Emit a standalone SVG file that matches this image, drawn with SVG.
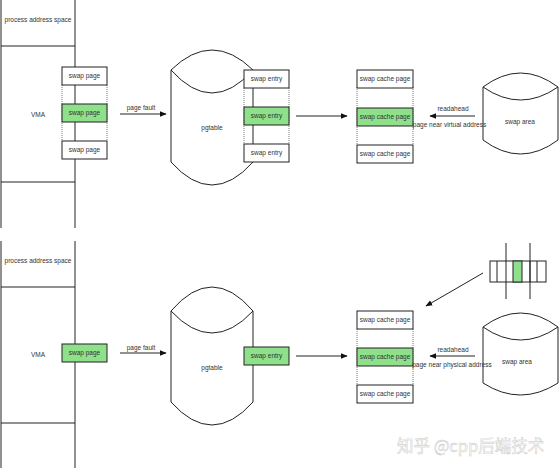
<svg xmlns="http://www.w3.org/2000/svg" width="560" height="471" viewBox="0 0 560 471">
<defs>
<marker id="ah" viewBox="0 0 10 10" refX="9" refY="5" markerWidth="7" markerHeight="7" markerUnits="userSpaceOnUse" orient="auto">
<path d="M0,1 L10,5 L0,9 Z" fill="#111"/>
</marker>
<style>
text{font-family:"Liberation Sans",Arial,sans-serif;font-size:6.5px;fill:#333;text-anchor:middle}
.ln{stroke:#222;stroke-width:1;fill:none}
.bx{fill:#fff;stroke:#222;stroke-width:1}
.gr{fill:#8ee08a;stroke:#222;stroke-width:1}
.dt{stroke:#555;stroke-width:0.8;stroke-dasharray:1,1;fill:none}
.sh{fill:#fff;stroke:#222;stroke-width:1}
.ar{stroke:#222;stroke-width:1;fill:none;marker-end:url(#ah)}
.wm{font-family:"Noto Sans CJK SC","Liberation Sans",sans-serif;font-size:16.5px;fill:#fbfbfb;stroke:#c4c4c4;stroke-width:0.4;text-anchor:start}
</style>
</defs>

<!-- TOP SECTION -->
<g id="pas-top">
<line class="ln" x1="1" y1="0" x2="1" y2="228"/>
<line class="ln" x1="75" y1="0" x2="75" y2="228"/>
<line class="ln" x1="1" y1="46" x2="75" y2="46"/>
<line class="ln" x1="1" y1="182" x2="75" y2="182"/>
<text x="38" y="22">process address space</text>
<text x="38" y="117">VMA</text>
</g>
<g id="swap-pages-top">
<line class="dt" x1="62" y1="85" x2="62" y2="141"/>
<line class="dt" x1="107" y1="85" x2="107" y2="141"/>
<rect class="bx" x="62" y="67" width="45" height="18"/>
<text x="84.5" y="78">swap page</text>
<rect class="gr" x="62" y="104" width="45" height="18"/>
<text x="84.5" y="115">swap page</text>
<rect class="bx" x="62" y="141" width="45" height="18"/>
<text x="84.5" y="152">swap page</text>
</g>
<g id="pgtable-top">
<path class="sh" d="M171,70 Q212,30 253,70 L253,162 Q212,208 171,162 Z"/>
<path class="ln" d="M171,70 Q212,116 253,70"/>
<text x="212" y="130">pgtable</text>
</g>
<g id="swap-entries-top">
<line class="dt" x1="244" y1="88" x2="244" y2="144"/>
<line class="dt" x1="289" y1="88" x2="289" y2="144"/>
<rect class="bx" x="244" y="70" width="45" height="18"/>
<text x="266.5" y="81">swap entry</text>
<rect class="gr" x="244" y="107" width="45" height="18"/>
<text x="266.5" y="118">swap entry</text>
<rect class="bx" x="244" y="144" width="45" height="18"/>
<text x="266.5" y="155">swap entry</text>
</g>
<g id="swap-cache-top">
<line class="dt" x1="357" y1="87" x2="357" y2="145"/>
<line class="dt" x1="413" y1="87" x2="413" y2="145"/>
<rect class="bx" x="357" y="70" width="56" height="18"/>
<text x="385" y="81">swap cache page</text>
<rect class="gr" x="357" y="108" width="56" height="18"/>
<text x="385" y="119">swap cache page</text>
<rect class="bx" x="357" y="145" width="56" height="18"/>
<text x="385" y="156">swap cache page</text>
</g>
<g id="swap-area-top">
<path class="sh" d="M483,87 Q520.5,59 558,87 L558,140 Q520.5,168 483,140 Z"/>
<path class="ln" d="M483,87 Q520.5,113 558,87"/>
<text x="520" y="124">swap area</text>
</g>

<!-- BOTTOM SECTION -->
<g id="pas-bottom">
<line class="ln" x1="1" y1="241" x2="1" y2="468"/>
<line class="ln" x1="75" y1="241" x2="75" y2="468"/>
<line class="ln" x1="1" y1="287" x2="75" y2="287"/>
<line class="ln" x1="1" y1="423" x2="75" y2="423"/>
<text x="38" y="263">process address space</text>
<text x="38" y="357">VMA</text>
</g>
<g id="swap-page-bottom">
<rect class="gr" x="62" y="344" width="45" height="18"/>
<text x="84.5" y="355">swap page</text>
</g>
<g id="pgtable-bottom">
<path class="sh" d="M171,311 Q212,263 253,311 L253,402 Q212,448 171,402 Z"/>
<path class="ln" d="M171,311 Q212,355 253,311"/>
<text x="212" y="370">pgtable</text>
</g>
<g id="swap-entry-bottom">
<rect class="gr" x="244" y="347" width="45" height="18"/>
<text x="266.5" y="358">swap entry</text>
</g>
<g id="swap-cache-bottom">
<line class="dt" x1="357" y1="329" x2="357" y2="386"/>
<line class="dt" x1="413" y1="329" x2="413" y2="386"/>
<rect class="bx" x="357" y="311" width="56" height="18"/>
<text x="385" y="322">swap cache page</text>
<rect class="gr" x="357" y="348" width="56" height="18"/>
<text x="385" y="359">swap cache page</text>
<rect class="bx" x="357" y="385" width="56" height="18"/>
<text x="385" y="396">swap cache page</text>
</g>
<g id="swap-area-bottom">
<path class="sh" d="M483,327 Q520.5,299 558,327 L558,383 Q520.5,407 483,383 Z"/>
<path class="ln" d="M483,327 Q520.5,353 558,327"/>
<text x="517" y="364">swap area</text>
</g>
<g id="swap-array">
<rect class="bx" x="490" y="261" width="56" height="21"/>
<rect class="gr" x="513" y="261" width="9" height="21"/>
<line class="ln" x1="497" y1="261" x2="497" y2="282"/>
<line class="ln" x1="530" y1="261" x2="530" y2="282"/>
<line class="ln" x1="537" y1="261" x2="537" y2="282"/>
<line class="ln" x1="506" y1="243" x2="506" y2="299"/>
<line class="ln" x1="530" y1="243" x2="530" y2="299"/>
</g>

<!-- CONNECTORS -->
<g id="connectors">
<line class="ar" x1="120" y1="114" x2="166" y2="114"/>
<text x="141" y="110">page fault</text>
<line class="ar" x1="296" y1="116" x2="347" y2="116"/>
<line class="ar" x1="475" y1="116" x2="430" y2="116"/>
<text x="453" y="111">readahead</text>
<text x="449.5" y="127">page near virtual address</text>

<line class="ar" x1="120" y1="353" x2="166" y2="353"/>
<text x="141" y="350">page fault</text>
<line class="ar" x1="296" y1="356" x2="347" y2="356"/>
<line class="ar" x1="475" y1="356" x2="430" y2="356"/>
<text x="453" y="352">readahead</text>
<text x="452" y="367">page near physical address</text>
<line class="ar" x1="483" y1="273" x2="426" y2="306"/>
</g>

<text class="wm" x="397" y="452">知乎 @cpp后端技术</text>
</svg>
